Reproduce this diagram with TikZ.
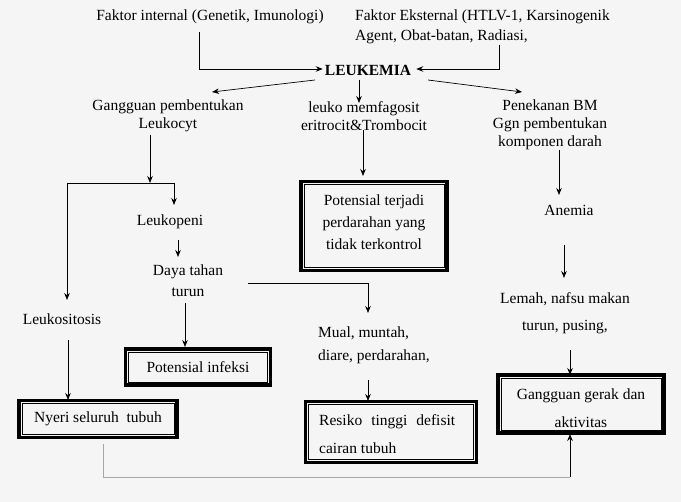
\documentclass[tikz,border=0pt]{standalone}
\usepackage{fontspec}
\setmainfont{Liberation Serif}
\usetikzlibrary{arrows.meta}
\begin{document}
\begin{tikzpicture}[x=1pt,y=-1pt,
  every node/.style={font=\fontsize{15.5}{18}\selectfont, inner sep=0pt},
  lbl/.style={align=center},
  arr/.style={-{Stealth[length=7pt,width=5.5pt]}, line width=0.7pt},
  ln/.style={line width=0.7pt},
  dbox/.style={draw, line width=3.2pt},
  inbox/.style={draw, line width=0.6pt}]
\fill[white!96!black] (0,0) rectangle (681,502);
\useasboundingbox (0,0) rectangle (681,502);
% boxes
\node[dbox, minimum width=146, minimum height=89] (B1) at (374,226) {};
\node[lbl] (B1t) at (374,222) {Potensial terjadi\\[4pt]perdarahan yang\\[4pt]tidak terkontrol};
\node[dbox, minimum width=145, minimum height=36] (B2) at (198,367) {};
\node (B2t) at (198,367) {Potensial infeksi};
\node[dbox, minimum width=158, minimum height=37] (B3) at (98,419) {};
\node (B3t) at (98,419) {Nyeri seluruh\ \ tubuh};
\node[dbox, minimum width=171, minimum height=61] (B4) at (391,432) {};
\node[align=left,anchor=west] (B4t) at (319,434) {Resiko\hspace{9pt}tinggi\hspace{9pt}defisit\\[10pt]cairan tubuh};
\node[dbox, minimum width=166, minimum height=58] (B5) at (581,404) {};
\node[lbl] (B5t) at (581,408) {Gangguan gerak dan\\[10pt]aktivitas};
\foreach \b in {B1,B2,B3,B4,B5}
  \draw[inbox] ([shift={(4.5,-4.5)}]\b.south west) rectangle ([shift={(-4.5,4.5)}]\b.north east);
% text
\node (fi) at (210,17) {Faktor internal (Genetik, Imunologi)};
\node[align=left,anchor=west] (fe) at (355,27) {Faktor Eksternal (HTLV-1, Karsinogenik\\[2pt]Agent, Obat-batan, Radiasi,};
\node[font=\fontsize{15.5}{18}\selectfont\bfseries] (leu) at (368,70) {LEUKEMIA};
\node[lbl] (gp) at (168,116) {Gangguan pembentukan\\Leukocyt};
\node[lbl] (lm) at (364,116) {leuko memfagosit\\eritrocit\&Trombocit};
\node[lbl] (pb) at (550,125) {Penekanan BM\\Ggn pembentukan\\komponen darah};
\node (lp) at (170,222) {Leukopeni};
\node[lbl] (dt) at (188,281) {Daya tahan\\[3pt]turun};
\node (an) at (569,210) {Anemia};
\node[lbl] (le) at (565,313) {Lemah, nafsu makan\\[9pt]turun, pusing,};
\node (lk) at (62,319) {Leukositosis};
\node[align=left,anchor=west] (mu) at (318,345) {Mual, muntah,\\[5pt]diare, perdarahan,};
% connectors
\coordinate (c1) at (199,32); \coordinate (c2) at (199,69);
\draw[arr] (c1) -- (c2) -- ([xshift=-2]leu.west |- c2);
\coordinate (c3) at (499,45); \coordinate (c4) at (499,69);
\draw[arr] (c3) -- (c4) -- ([xshift=5]leu.east |- c4);
\draw[arr] (315,80) -- (212,92);
\draw[arr] (359,80) -- (359,103);
\draw[arr] (428,80) -- (522,92);
\coordinate (j0) at (150,135); \coordinate (j1) at (150,183);
\coordinate (jl) at (67,183); \coordinate (jr) at (174,183);
\draw[arr] (j0) -- (j1);
\draw[ln] (jl) -- (jr);
\draw[arr] (jr) -- (174,205);
\draw[arr] (jl) -- (67,300);
\draw[arr] (178,240) -- (178,257);
\draw[arr] (363,130) -- (363,176);
\draw[arr] (559,150) -- (559,195);
\draw[arr] (564,245) -- (564,278);
\draw[arr] (570,350) -- (570,375);
\draw[arr] (68,340) -- (68,400);
\draw[arr] (185,303) -- (185,347);
\coordinate (d1) at (248,283); \coordinate (d2) at (368,283);
\draw[ln] (d1) -- (d2); \draw[arr] (d2) -- (368,313);
\draw[arr] (368,380) -- (368,401);
\coordinate (g1) at (103,444); \coordinate (g2) at (103,477); \coordinate (g3) at (570,477);
\draw[ln, gray!70] (g1) -- (g2) -- (g3);
\draw[arr] (g3) -- (570,434);
\end{tikzpicture}
\end{document}
